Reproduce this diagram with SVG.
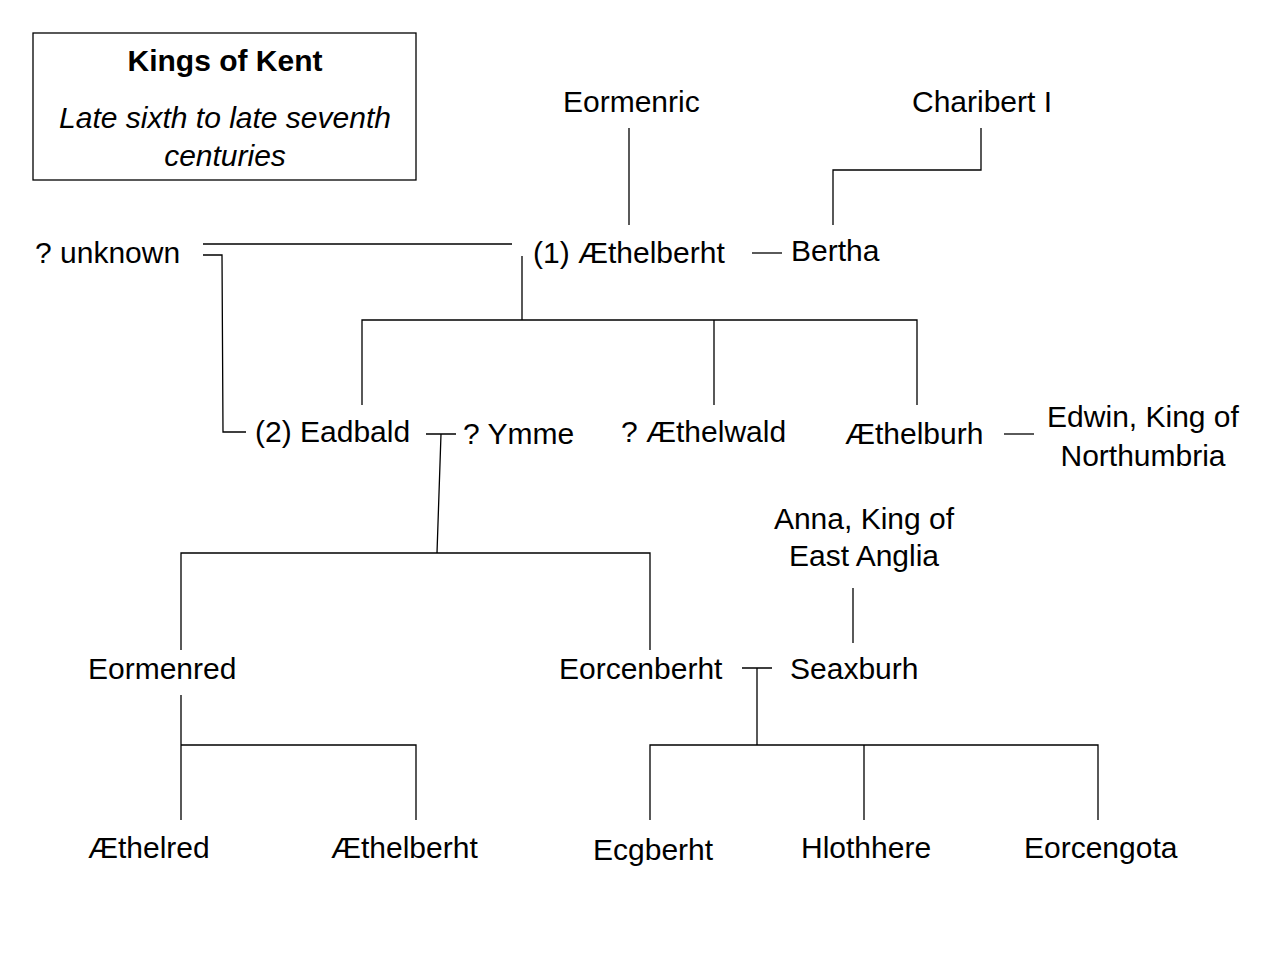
<svg xmlns="http://www.w3.org/2000/svg" width="1280" height="958" viewBox="0 0 1280 958">
<style>
text{font-family:"Liberation Sans",Arial,sans-serif;font-size:30px;fill:#000}
.c{text-anchor:middle}
#connectors path{fill:none;stroke:#000;stroke-width:1.3}
</style>
<rect width="1280" height="958" fill="#fff"/>
<g id="title">
<rect x="33" y="33" width="383" height="147" fill="#fff" stroke="#000" stroke-width="1.3"/>
<text class="c" x="225" y="71" font-weight="bold">Kings of Kent</text>
<text class="c" x="225" y="128" font-style="italic">Late sixth to late seventh</text>
<text class="c" x="225" y="166" font-style="italic">centuries</text>
</g>
<g id="connectors">
<path d="M629 128V225"/>
<path d="M981 128V170H833V225"/>
<path d="M203 244H512"/>
<path d="M203 255H222L223 432H246"/>
<path d="M752 253H782"/>
<path d="M522 256V320M362 405V320H917V405M714 320V405"/>
<path d="M426 434H456M441 434L437 553M181 650V553H650V650"/>
<path d="M1004 434H1034"/>
<path d="M853 588V643"/>
<path d="M742 668H772M757 668V745M650 820V745H1098V820M864 745V820"/>
<path d="M181 695V820M181 745H416V820"/>
</g>
<g id="eormenric"><text x="563" y="112">Eormenric</text></g>
<g id="charibert"><text x="912" y="112">Charibert I</text></g>
<g id="unknown"><text x="35" y="263">? unknown</text></g>
<g id="aethelberht1"><text x="533" y="263">(1) Æthelberht</text></g>
<g id="bertha"><text x="791" y="261">Bertha</text></g>
<g id="eadbald"><text x="255" y="442">(2) Eadbald</text></g>
<g id="ymme"><text x="463" y="444">? Ymme</text></g>
<g id="aethelwald"><text x="621" y="442">? Æthelwald</text></g>
<g id="aethelburh"><text x="845" y="444">Æthelburh</text></g>
<g id="edwin"><text class="c" x="1143" y="427">Edwin, King of</text><text class="c" x="1143" y="466">Northumbria</text></g>
<g id="anna"><text class="c" x="864" y="529">Anna, King of</text><text class="c" x="864" y="566">East Anglia</text></g>
<g id="eormenred"><text x="88" y="679">Eormenred</text></g>
<g id="eorcenberht"><text x="559" y="679">Eorcenberht</text></g>
<g id="seaxburh"><text x="790" y="679">Seaxburh</text></g>
<g id="aethelred"><text x="88" y="858">Æthelred</text></g>
<g id="aethelberht2"><text x="331" y="858">Æthelberht</text></g>
<g id="ecgberht"><text x="593" y="860">Ecgberht</text></g>
<g id="hlothhere"><text x="801" y="858">Hlothhere</text></g>
<g id="eorcengota"><text x="1024" y="858">Eorcengota</text></g>
</svg>
